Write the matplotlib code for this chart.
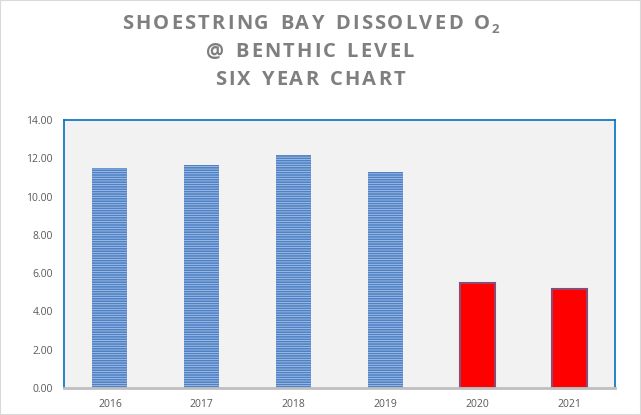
import matplotlib.pyplot as plt
from matplotlib.patches import Rectangle

years = ['2016', '2017', '2018', '2019', '2020', '2021']
oxygen = [11.50, 11.65, 12.17, 11.28, 5.49, 5.17]
is_low = [False, False, False, False, True, True]

title_lines = ['SHOESTRING BAY DISSOLVED O', '@ BENTHIC LEVEL', 'SIX YEAR CHART']

plt.rcParams['font.family'] = ['Open Sans', 'DejaVu Sans']
plt.rcParams['hatch.linewidth'] = 1.2

fig = plt.figure(figsize=(6.41, 4.15), dpi=100)
ax = fig.add_axes([64 / 641, 1 - 388 / 415, 551 / 641, 268 / 415])
ax.set_facecolor('#f2f2f2')

x = range(len(years))
for i, (val, low) in enumerate(zip(oxygen, is_low)):
    if low:
        ax.bar(i, val, width=0.38, color='#ff0000', edgecolor='#8e4a72', linewidth=1.5, zorder=2)
    else:
        ax.bar(i, val, width=0.38, color='#b4cdee', edgecolor='#4f81c4', hatch='-------',
               linewidth=0, zorder=2)

ax.set_xlim(-0.5, len(years) - 0.5)
ax.set_ylim(0, 14)
ax.set_yticks(range(0, 15, 2))
ax.set_yticklabels([f'{v:.2f}' for v in range(0, 15, 2)])
ax.set_xticks(list(x))
ax.set_xticklabels(years)
ax.tick_params(length=0, labelsize=7.5, labelcolor='#595959', pad=8)

for side in ['left', 'top', 'right']:
    ax.spines[side].set_color('#0070c0')
    ax.spines[side].set_linewidth(1.2)
ax.spines['bottom'].set_color('#bfbfbf')
ax.spines['bottom'].set_linewidth(2)

# title with letter spacing, drawn char by char
renderer = fig.canvas.get_renderer()
W, H = 641, 415
tracking = 2.2
center_x = 310
style = dict(fontsize=14.5, fontweight='bold', color='#7f7f7f', va='baseline', ha='left')


def spaced_line(text, base_y, sub=None):
    pieces = []
    for ch in text:
        t = fig.text(0, 0, ch, **style)
        if ch == ' ':
            w = 6.5
        else:
            w = t.get_window_extent(renderer).width
        pieces.append((t, w))
    sub_t = None
    sub_w = 0
    if sub:
        sub_t = fig.text(0, 0, sub, fontsize=9.5, fontweight='bold', color='#7f7f7f',
                         va='baseline', ha='left')
        sub_w = sub_t.get_window_extent(renderer).width + 1
    total = sum(w for _, w in pieces) + tracking * (len(pieces) - 1) + sub_w
    xpos = center_x - total / 2
    for t, w in pieces:
        t.set_position((xpos / W, 1 - base_y / H))
        xpos += w + tracking
    if sub_t is not None:
        sub_t.set_position((xpos / W, 1 - (base_y + 4) / H))


spaced_line(title_lines[0], 29, sub='2')
spaced_line(title_lines[1], 57)
spaced_line(title_lines[2], 85)

fig.patches.append(Rectangle((0, 0), 1, 1, transform=fig.transFigure, fill=False,
                             edgecolor='#d9d9d9', linewidth=1.5))

fig.savefig('out.png', dpi=100)
